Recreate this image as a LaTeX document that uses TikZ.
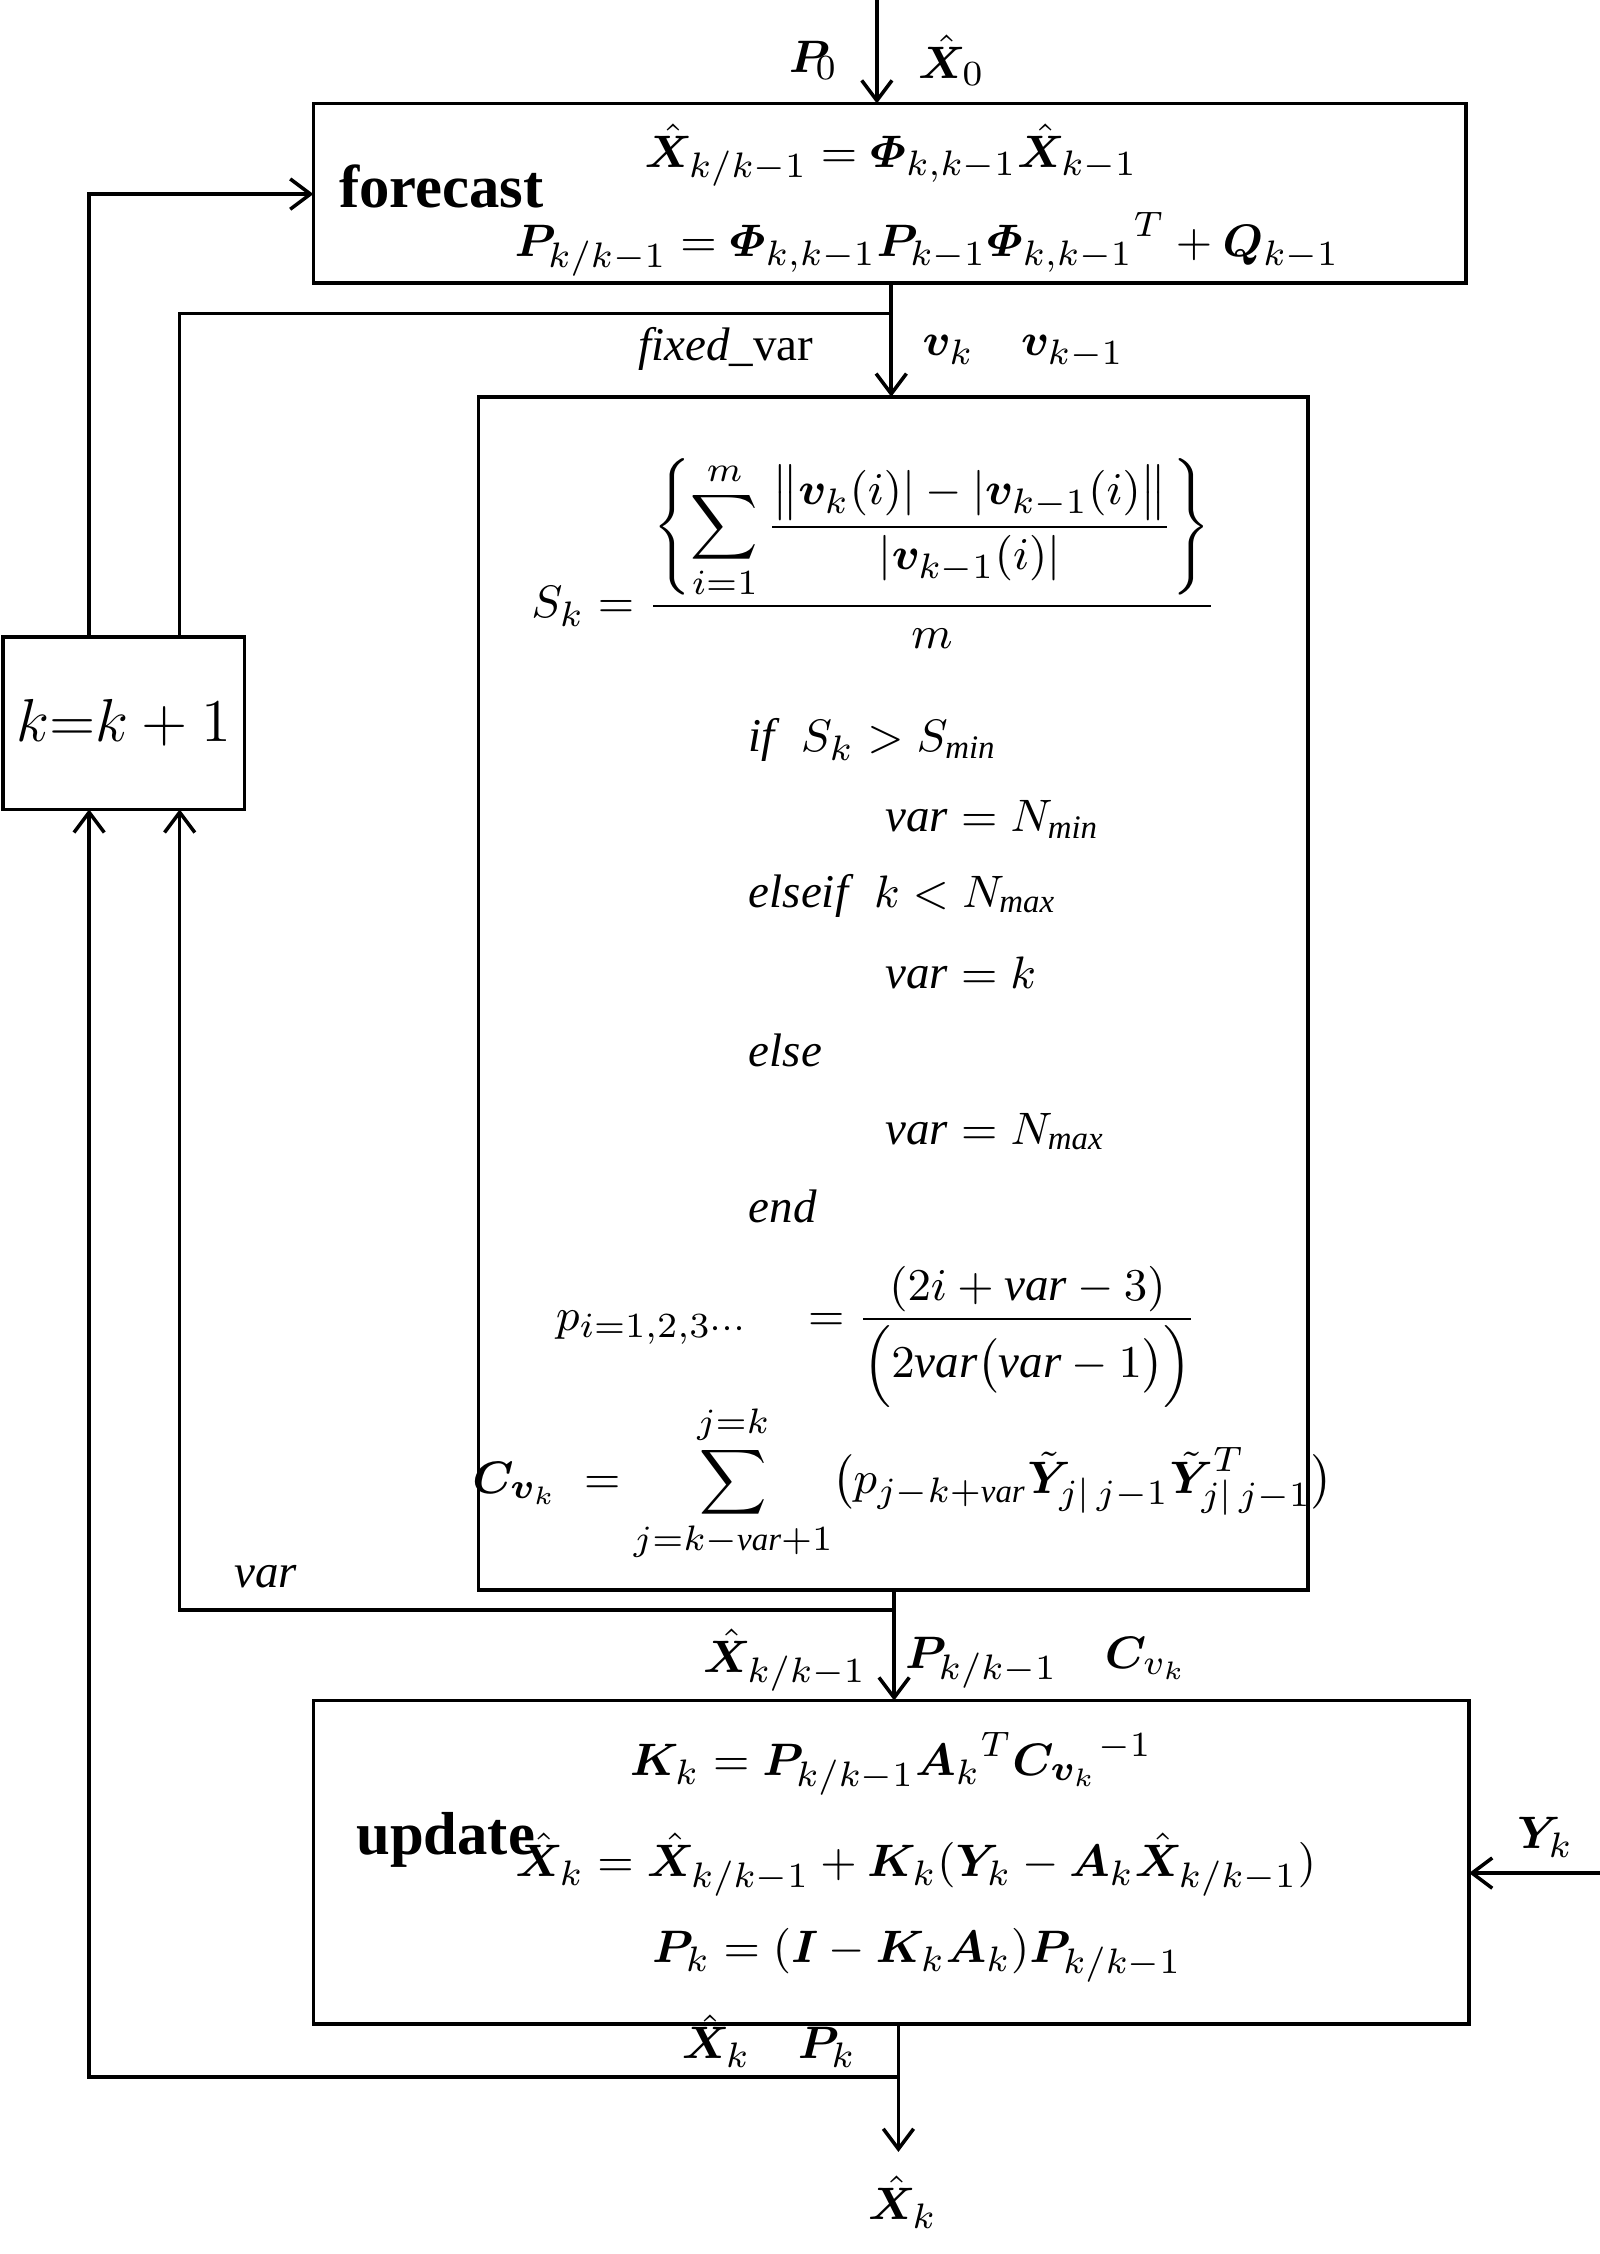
\documentclass[tikz,border=0pt]{standalone}
\usepackage{amsmath,bm}
\usepackage{fontspec}
\setmainfont{Liberation Serif}
\usetikzlibrary{positioning,arrows.meta}
\newcommand{\hX}{\hat{\bm{X}}}
\begin{document}
\begin{tikzpicture}[x=0.01cm,y=-0.01cm,line width=0.7pt,
  every node/.style={font=\fontsize{9.3}{11}\selectfont},
  ttl/.style={font=\fontsize{12}{14}\selectfont\bfseries},
  arr/.style={->,>={Straight Barb[length=4pt,width=6pt]}}]
\useasboundingbox (0,0) rectangle (1113,1568);
% boxes
\draw (218,72) rectangle (1020,197);
\draw (333,276) rectangle (910,1106);
\draw (2,443) rectangle (170,563);
\draw (218,1183) rectangle (1022,1408);
\coordinate (fcin) at (610,72);
\coordinate (mid) at (620,276);
\coordinate (updin) at (622,1183);
\coordinate (kbot1) at (62,563);
\coordinate (kbot2) at (125,563);
% forecast
\draw[arr] (610,0) -- (fcin);
\node at (566,42) {$\bm{P}_{\!0}$};
\node at (662,42) {$\hX_0$};
\node[ttl] at (307,130) {forecast};
\node at (620,108) {$\hX_{k/k-1}=\bm{\varPhi}_{k,k-1}\hX_{k-1}$};
\node at (645,170) {$\bm{P}_{k/k-1}=\bm{\varPhi}_{k,k-1}\bm{P}_{k-1}{\bm{\varPhi}_{k,k-1}}^{T}+\bm{Q}_{k-1}$};
% loop from k box
\draw[arr] (62,443) -- (62,135) -- (218,135);
\draw (125,443) -- (125,218) -- (620,218);
\draw[arr] (620,197) -- (mid);
\node at (505,243) {$\mathit{fixed}\_\mathrm{var}$};
\node at (712,245) {$\bm{v}_k\quad\bm{v}_{k-1}$};
\node at (86,503) {\fontsize{12}{14}\selectfont$k{=}k+1$};
% middle box
\node at (608,385) {$S_k=\dfrac{\left\{\displaystyle\sum_{i=1}^{m}\frac{\bigl\|\bm{v}_k(i)|-|\bm{v}_{k-1}(i)\bigr\|}{|\bm{v}_{k-1}(i)|}\right\}}{m}$};
\node[anchor=west] at (508,515) {$\mathit{if}\;\;S_k>S_{\mathit{min}}$};
\node[anchor=west] at (603,570) {$\mathit{var}=N_{\mathit{min}}$};
\node[anchor=west] at (508,623) {$\mathit{elseif}\;\;k<N_{\mathit{max}}$};
\node[anchor=west] at (603,677) {$\mathit{var}=k$};
\node[anchor=west] at (508,731) {$\mathit{else}$};
\node[anchor=west] at (603,787) {$\mathit{var}=N_{\mathit{max}}$};
\node[anchor=west] at (508,839) {$\mathit{end}$};
\node at (610,930) {$p_{i=1,2,3\cdots}\quad=\dfrac{\left(2i+\mathit{var}-3\right)}{\Bigl(2\mathit{var}\bigl(\mathit{var}-1\bigr)\Bigr)}$};
\node at (628,1032) {$\bm{C}_{\bm{v}_k}\;=\displaystyle\sum_{j=k-\mathit{var}+1}^{j=k}\bigl(p_{j-k+\mathit{var}}\tilde{\bm{Y}}_{j|\,j-1}{\tilde{\bm{Y}}_{j|\,j-1}}^{T}\bigr)$};
% to update
\draw[arr] (622,1106) -- (updin);
\draw[arr] (622,1120) -- (125,1120) -- (kbot2);
\node at (185,1097) {$\mathit{var}$};
\node at (546,1155) {$\hX_{k/k-1}$};
\node at (728,1157) {$\bm{P}_{k/k-1}\quad\bm{C}_{v_k}$};
% update
\node[ttl] at (310,1280) {update};
\node at (620,1227) {$\bm{K}_k=\bm{P}_{k/k-1}{\bm{A}_k}^{T}{\bm{C}_{\bm{v}_k}}^{-1}$};
\node at (637,1297) {$\hX_k=\hX_{k/k-1}+\bm{K}_k(\bm{Y}_k-\bm{A}_k\hX_{k/k-1})$};
\node at (638,1360) {$\bm{P}_k=(\bm{I}-\bm{K}_k\bm{A}_k)\bm{P}_{k/k-1}$};
\draw[arr] (1113,1303) -- (1022,1303);
\node at (1075,1278) {$\bm{Y}_k$};
% output
\draw[arr] (625,1408) -- (625,1497);
\draw[arr] (625,1445) -- (62,1445) -- (kbot1);
\node at (535,1420) {$\hX_k\quad\bm{P}_k$};
\node at (628,1532) {$\hX_k$};
\end{tikzpicture}
\end{document}
